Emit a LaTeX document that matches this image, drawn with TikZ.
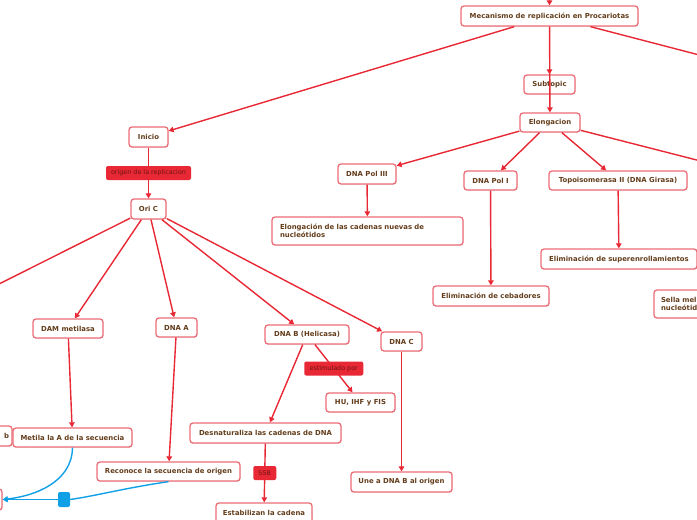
\documentclass[tikz,border=0pt]{standalone}
\usepackage{fontspec}
\setmainfont{DejaVu Sans}
\usetikzlibrary{arrows.meta,shadows}
\definecolor{txt}{RGB}{100,62,28}
\definecolor{bord}{RGB}{236,108,118}
\definecolor{lin}{RGB}{232,40,52}
\definecolor{lab}{RGB}{232,40,52}
\definecolor{labtxt}{RGB}{110,20,20}
\definecolor{blu}{RGB}{16,160,230}
\tikzset{
  topic/.style={draw=bord, line width=1.3pt, fill=white, rounded corners=3pt,
    inner sep=0pt, text=txt, font=\fontsize{6.9}{8}\selectfont\bfseries,
    drop shadow={opacity=0.18, shadow xshift=0.6pt, shadow yshift=-0.8pt}},
  rel/.style={fill=lab, rounded corners=2pt, inner sep=0pt, text=labtxt,
    font=\fontsize{6.4}{8}\selectfont, minimum height=14pt},
  conn/.style={draw=lin, line width=1.4pt, -{Triangle[width=5.5pt,length=5pt]}},
  plain/.style={draw=lin, line width=1.4pt},
  bconn/.style={draw=blu, line width=1.4pt, -{Triangle[width=5.5pt,length=5pt]}},
}
\begin{document}
\begin{tikzpicture}[x=1pt,y=-1pt]
\useasboundingbox (0,0) rectangle (697,520);
\clip (0,0) rectangle (697,520);
% off-picture anchors
\coordinate (top) at (549.5,-30);
\coordinate (rmec) at (757,70);
\coordinate (relo) at (757,175.4);
\coordinate (lori) at (-40,303.6);
% nodes
\node[topic, minimum width=177pt, minimum height=20pt] (mec) at (549.5,16) {Mecanismo de replicación en Procariotas};
\node[topic, minimum width=51pt, minimum height=19pt] (sub) at (549.5,84.5) {Subtopic};
\node[topic, minimum width=60pt, minimum height=19pt] (elo) at (550,122.5) {Elongacion};
\node[topic, minimum width=39pt, minimum height=20pt] (ini) at (148.5,137) {Inicio};
\node[topic, minimum width=35pt, minimum height=20pt] (ori) at (148.5,209) {Ori C};
\node[topic, minimum width=70pt, minimum height=19pt] (dam) at (68,328.5) {DAM metilasa};
\node[topic, minimum width=41pt, minimum height=19pt] (dnaa) at (176.5,327.5) {DNA A};
\node[topic, minimum width=84pt, minimum height=19pt] (dnab) at (307,334.5) {DNA B (Helicasa)};
\node[topic, minimum width=41pt, minimum height=19pt] (dnac) at (401.5,341.5) {DNA C};
\node[topic, minimum width=119pt, minimum height=19pt] (met) at (72.5,437.5) {Metila la A de la secuencia};
\node[topic, minimum width=62pt, minimum height=20pt, text width=56pt, align=right] (bnode) at (-19,436) {b};
\node[topic, minimum width=143pt, minimum height=19pt] (rec) at (168.5,471.5) {Reconoce la secuencia de origen};
\node[topic, minimum width=62pt, minimum height=21pt] (lft) at (-29,499.5) {};
\node[topic, minimum width=151pt, minimum height=20pt] (des) at (265.5,433) {Desnaturaliza las cadenas de DNA};
\node[topic, minimum width=69pt, minimum height=19pt] (hu) at (360.5,402.5) {HU, IHF y FIS};
\node[topic, minimum width=96pt, minimum height=20pt] (est) at (264,513) {Estabilizan la cadena};
\node[topic, minimum width=101pt, minimum height=20pt] (une) at (401.5,482) {Une a DNA B al origen};
\node[topic, minimum width=58pt, minimum height=20pt] (pol3) at (367,174) {DNA Pol III};
\node[topic, minimum width=53pt, minimum height=19pt] (pol1) at (490.5,180.5) {DNA Pol I};
\node[topic, minimum width=138pt, minimum height=19pt] (topo) at (618,180.5) {Topoisomerasa II (DNA Girasa)};
\node[topic, minimum width=191pt, minimum height=28pt, text width=175pt, align=left] (elc) at (367.5,231) {Elongación de las cadenas nuevas de\\nucleótidos};
\node[topic, minimum width=116pt, minimum height=20pt] (ceb) at (491,296) {Eliminación de cebadores};
\node[topic, minimum width=156pt, minimum height=20pt] (sup) at (619,259) {Eliminación de superenrollamientos};
\node[topic, minimum width=90pt, minimum height=28pt, text width=76pt, align=left] (sel) at (699,304) {Sella mellas entre\\nucleótidos};
% connectors
\draw[conn] (top) -- (mec);
\draw[conn] (mec) -- (sub);
\draw[conn] (mec) -- (elo);
\draw[conn] (mec) -- (ini);
\draw[plain] (mec) -- (rmec);
\draw[conn] (ini) -- node[rel, minimum width=85pt] (l1) {origen de la replicacion} (ori);
\draw[plain] (ori) -- (lori);
\draw[conn] (ori) -- (dam);
\draw[conn] (ori) -- (dnaa);
\draw[conn] (ori) -- (dnab);
\draw[conn] (ori) -- (dnac);
\draw[conn] (dam) -- (met);
\draw[conn] (dnaa) -- (rec);
\draw[conn] (dnab) -- (des);
\draw[conn] (dnab) -- node[rel, minimum width=59pt] (l2) {estimulado por} (hu);
\draw[conn] (des) -- node[rel, minimum width=23pt] (l3) {SSB} (est);
\draw[conn] (dnac) -- (une);
\draw[conn] (elo) -- (pol3);
\draw[conn] (elo) -- (pol1);
\draw[conn] (elo) -- (topo);
\draw[plain] (elo) -- (relo);
\draw[conn] (pol3) -- (elc);
\draw[conn] (pol1) -- (ceb);
\draw[conn] (topo) -- (sup);
% blue relationship connectors
\node[fill=blu, rounded corners=2pt, minimum width=12pt, minimum height=15pt, inner sep=0pt] (hnd) at (64,499.5) {};
\draw[bconn] (met.south) .. controls (72,482) and (35,496) .. (lft.east);
\draw[draw=blu, line width=1.4pt] (rec.south) .. controls (125,488) and (95,496) .. (hnd.east);
\draw[bconn] (hnd.west) -- (lft.east);
% redraw line over Subtopic
\draw[plain] (mec.south) -- (sub.south);
\end{tikzpicture}
\end{document}
